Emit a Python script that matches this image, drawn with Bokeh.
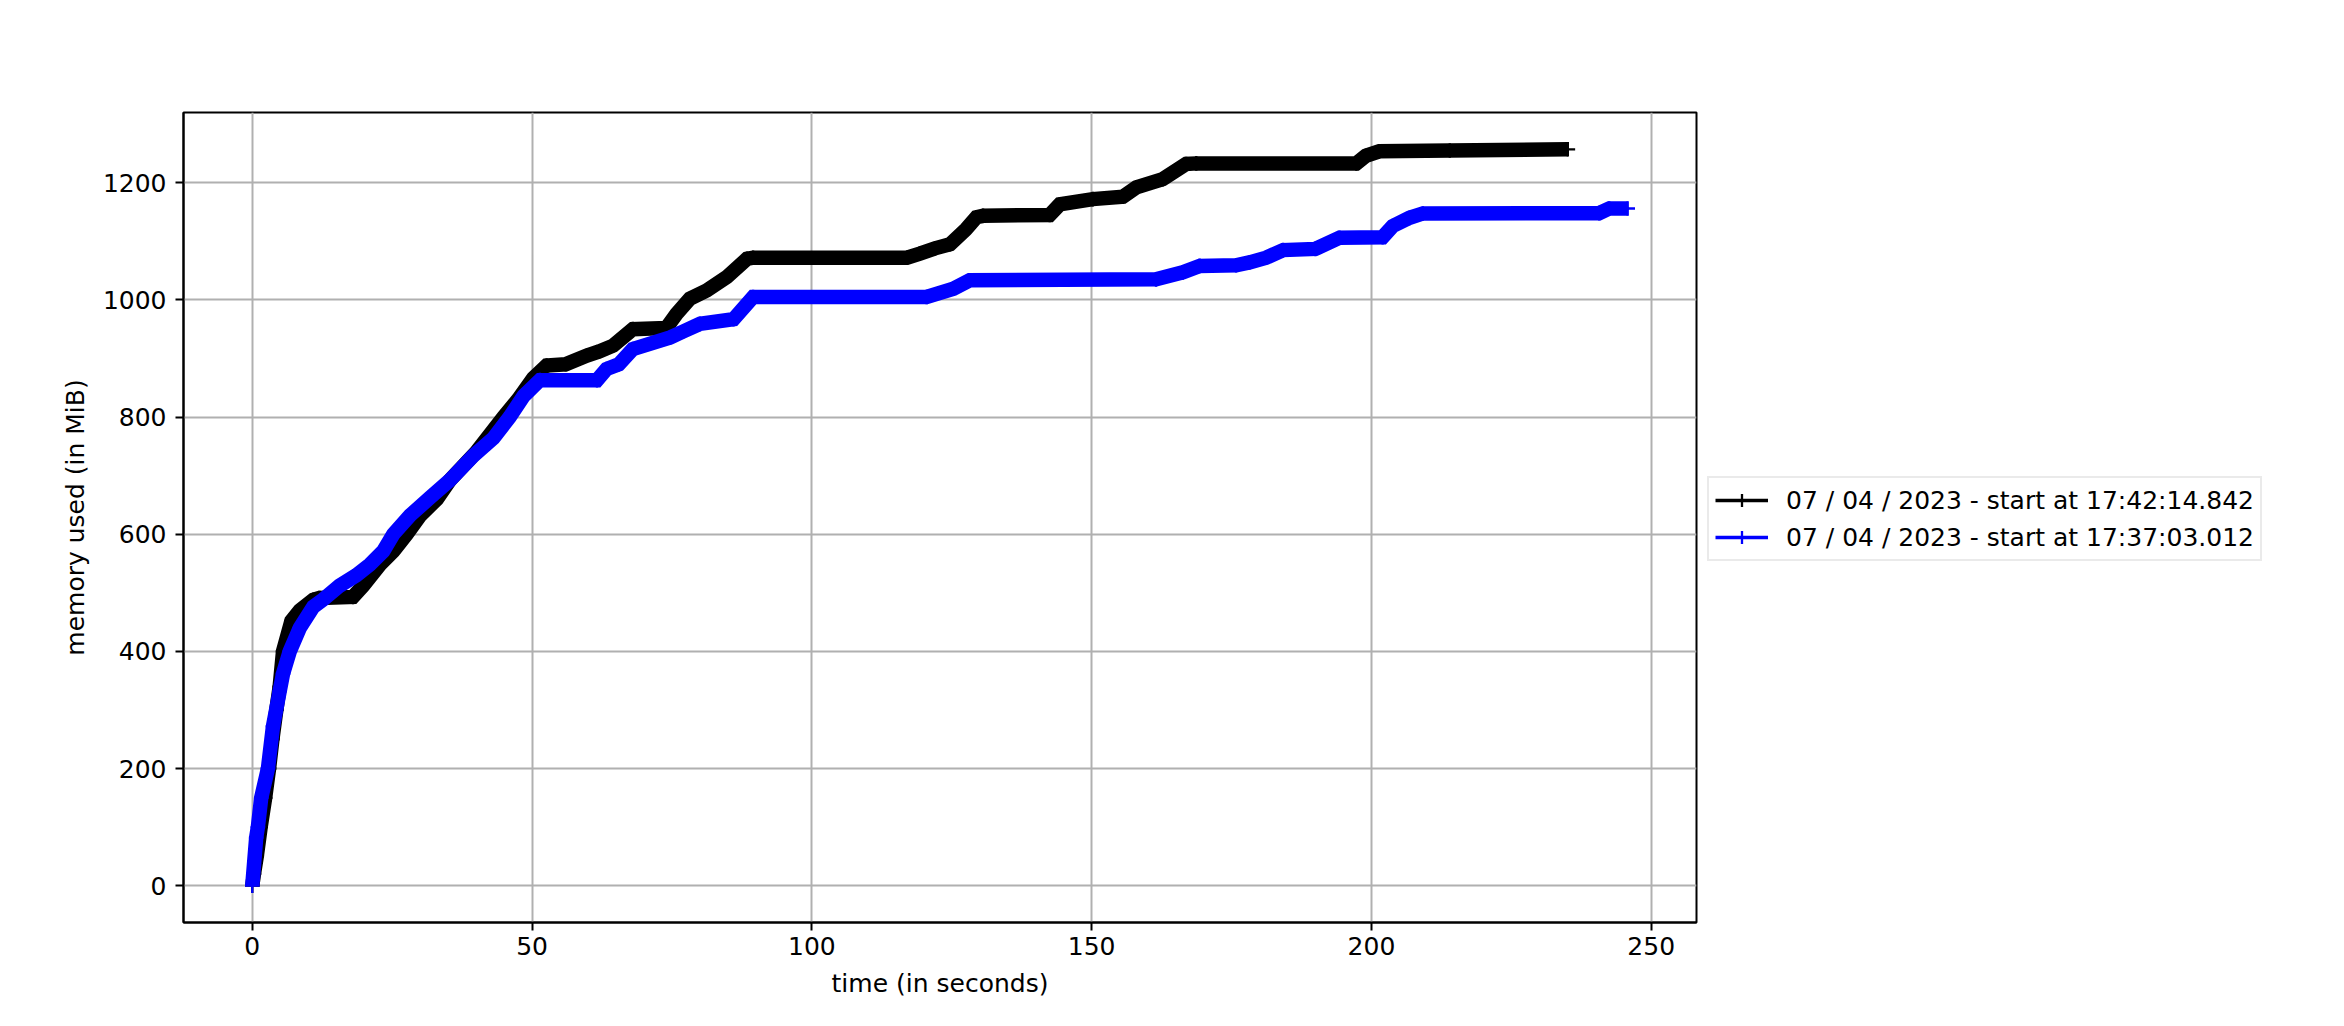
from bokeh.plotting import figure
from bokeh.layouts import row
from bokeh.models import Range1d, FixedTicker, Legend, LegendItem
from bokeh.embed import file_html
from bokeh.resources import INLINE

# ---- data ----
label_a = "07 / 04 / 2023 - start at 17:42:14.842"
label_b = "07 / 04 / 2023 - start at 17:37:03.012"

time_a = [0, 0.3, 0.8, 1.5, 2.3, 3.0, 3.6, 4.3, 4.9, 5.5, 7.0, 8.5, 10.9, 12.0, 18.0,
          19.8, 22.8, 25.2, 27.6, 30.0, 33.0, 35.3, 40.0, 44.9, 47.5, 50.2, 52.6, 56.0,
          59.8, 62.0, 64.5, 68.0, 74.0, 75.8, 78.2, 81.2, 84.8, 88.4, 89.5, 117.0, 119.3,
          122.0, 124.7, 127.5, 129.4, 130.6, 142.5, 144.3, 150.2, 155.6, 158.0, 162.7,
          166.9, 168.7, 197.3, 199.0, 201.4, 214.0, 235.1]
mem_a = [0, 20, 50, 100, 150, 200, 250, 300, 340, 400, 452, 470, 488, 491, 493,
         512, 548, 571, 600, 632, 660, 692, 740, 800, 830, 866, 888, 890,
         905, 912, 922, 950, 952, 976, 1002, 1016, 1039, 1070, 1072, 1072, 1079,
         1088, 1095, 1120, 1141, 1143.5, 1145, 1163, 1172, 1176, 1192, 1206,
         1232, 1233, 1233, 1246, 1253.6, 1255, 1257]

time_b = [0, 0.7, 1.0, 1.6, 2.8, 3.7, 4.9, 5.5, 6.7, 8.5, 10.9, 12.6, 15.6, 18.6, 21.0,
          23.4, 25.2, 28.2, 31.7, 35.3, 39.5, 43.1, 46.0, 48.5, 51.4, 61.6, 63.3, 65.5,
          68.0, 74.7, 77.0, 80.0, 86.0, 89.5, 120.5, 125.3, 128.2, 161.5, 166.3, 169.3,
          175.8, 178.2, 181.2, 184.2, 190.0, 194.3, 202.0, 203.8, 206.8, 209.2, 240.7,
          242.5, 245.8]
mem_b = [0, 82, 100, 150, 200, 272, 332, 362, 400, 440, 476, 488, 512, 530, 548,
         571, 600, 632, 662, 692, 734, 764, 800, 836, 863, 863, 882, 890,
         916, 936, 946, 959, 967, 1005, 1005, 1019, 1033.5, 1035, 1047, 1058,
         1059, 1064, 1072, 1085, 1087, 1106, 1107, 1126, 1140, 1147.5, 1148,
         1156, 1156]

x_ticks = [0, 50, 100, 150, 200, 250]
y_ticks = [0, 200, 400, 600, 800, 1000, 1200]

# ---- ranges with 5% margins like the original ----
xmin = min(min(time_a), min(time_b)); xmax = max(max(time_a), max(time_b))
ymin = min(min(mem_a), min(mem_b)); ymax = max(max(mem_a), max(mem_b))
dx = (xmax - xmin) * 0.05; dy = (ymax - ymin) * 0.05

FONT = "DejaVu Sans"
FS = "25px"

H = 1010
W_MAIN = 1698
W_LEG = 630

p = figure(width=W_MAIN, height=H, output_backend="svg", toolbar_location=None,
           x_range=Range1d(xmin - dx, xmax + dx), y_range=Range1d(ymin - dy, ymax + dy),
           min_border_left=183, min_border_right=2, min_border_top=112,
           min_border_bottom=88)

p.background_fill_color = "white"
p.border_fill_color = "white"
p.outline_line_color = "black"
p.outline_line_width = 2

for ax in (p.xaxis[0], p.yaxis[0]):
    ax.axis_line_width = 2
    ax.major_tick_line_width = 2
    ax.major_tick_out = 8
    ax.major_tick_in = 0
    ax.minor_tick_line_color = None
    ax.major_label_text_font = FONT
    ax.major_label_text_font_size = FS
    ax.major_label_text_color = "black"
    ax.axis_label_text_font = FONT
    ax.axis_label_text_font_size = FS
    ax.axis_label_text_font_style = "normal"
    ax.axis_label_text_color = "black"

p.xaxis[0].ticker = FixedTicker(ticks=x_ticks)
p.yaxis[0].ticker = FixedTicker(ticks=y_ticks)
p.xaxis[0].axis_label = "time (in seconds)"
p.yaxis[0].axis_label = "memory used (in MiB)"
p.xaxis[0].major_label_standoff = 6
p.yaxis[0].major_label_standoff = 9
p.xaxis[0].axis_label_standoff = 11
p.yaxis[0].axis_label_standoff = 10

p.xgrid.grid_line_color = "#b0b0b0"
p.ygrid.grid_line_color = "#b0b0b0"
p.xgrid.grid_line_width = 2
p.ygrid.grid_line_width = 2

series = ((time_a, mem_a, "black", label_a), (time_b, mem_b, "blue", label_b))
for t, m, col, lab in series:
    # dense '+' markers of the original form a solid band
    p.line(t, m, line_color=col, line_width=14.5, line_cap="butt", line_join="miter")
    p.line(t, m, line_color=col, line_width=3.6)
    p.scatter(t, m, marker="cross", size=14.6, line_color=col, line_width=2.3)

# ---- legend panel to the right of the axes ----
q = figure(width=W_LEG, height=H, output_backend="svg", toolbar_location=None,
           x_range=Range1d(-100, -99), y_range=Range1d(-100, -99),
           x_axis_type=None, y_axis_type=None,
           min_border_left=0, min_border_right=0, min_border_top=0, min_border_bottom=0)
q.outline_line_color = None
q.background_fill_color = "white"
q.border_fill_color = "white"
q.xgrid.visible = False
q.ygrid.visible = False

items = []
for t, m, col, lab in series:
    thin = q.line(t, m, line_color=col, line_width=3.6)
    mk = q.scatter(t, m, marker="cross", size=14.6, line_color=col, line_width=2.3)
    items.append(LegendItem(label=lab, renderers=[thin, mk]))

legend = Legend(items=items, location=(9, 361))
legend.label_text_font = FONT
legend.label_text_font_size = FS
legend.label_text_color = "black"
legend.glyph_width = 53
legend.glyph_height = 32
legend.label_height = 32
legend.label_standoff = 18
legend.spacing = 5
legend.padding = 6
legend.margin = 0
legend.border_line_color = "#d6d6d6"
legend.border_line_width = 2
legend.background_fill_color = "white"
legend.background_fill_alpha = 1.0
q.add_layout(legend)

layout = row(p, q, spacing=0)
open("out.html", "w").write(file_html(layout, INLINE))
